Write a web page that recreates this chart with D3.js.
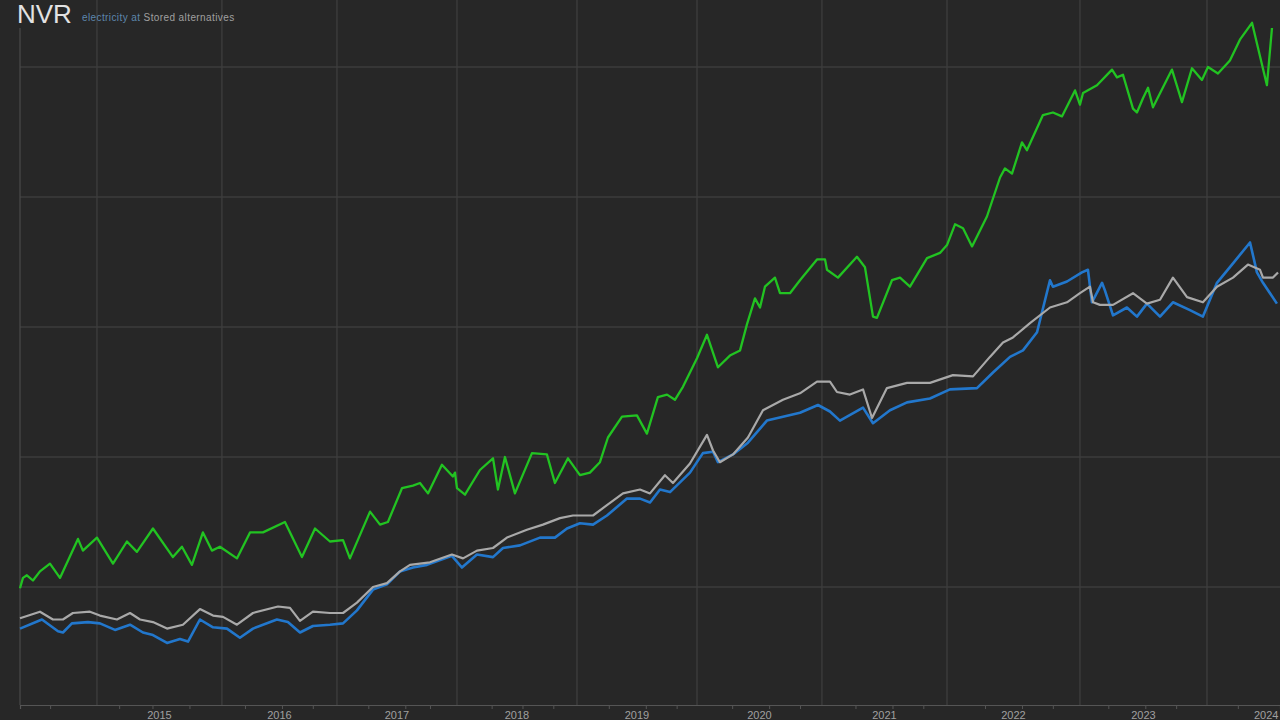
<!DOCTYPE html>
<html>
<head>
<meta charset="utf-8">
<script src="https://cdn.jsdelivr.net/npm/d3@7/dist/d3.min.js"></script>
<style>
  html, body { margin: 0; padding: 0; background: #272727; }
  svg { display: block; }
</style>
</head>
<body>
<svg id="chart" width="1280" height="720"></svg>
<script>
// ---- data (decimal year, index value) ----
const greenSeries = [
[2014.376,99],[2014.400,107],[2014.432,109],[2014.481,105],[2014.538,112],[2014.619,118],[2014.700,107],[2014.846,137],[2014.886,128],[2015.000,138],
[2015.130,118],[2015.243,135],[2015.324,127],[2015.454,145],[2015.616,123],[2015.689,131],[2015.770,117],[2015.859,142],[2015.932,128],[2015.997,131],
[2016.135,122],[2016.241,142],[2016.346,142],[2016.524,150],[2016.662,123],[2016.768,145],[2016.889,135],[2016.995,136],[2017.051,122],[2017.214,158],
[2017.295,148],[2017.359,150],[2017.473,176],[2017.562,178],[2017.619,180],[2017.684,172],[2017.797,194],[2017.886,185],[2017.903,188],[2017.919,176],
[2017.984,171],[2018.105,190],[2018.211,199],[2018.251,175],[2018.308,200],[2018.389,172],[2018.527,203],[2018.648,202],[2018.713,180],[2018.819,199],
[2018.916,186],[2018.997,188],[2019.078,196],[2019.143,215],[2019.257,231],[2019.378,232],[2019.459,218],[2019.548,246],[2019.622,248],[2019.686,244],
[2019.751,254],[2019.865,276],[2019.946,294],[2020.035,269],[2020.132,278],[2020.214,282],[2020.270,302],[2020.335,322],[2020.376,315],[2020.416,331],
[2020.497,338],[2020.538,326],[2020.619,326],[2020.700,336],[2020.838,352],[2020.903,352],[2020.919,344],[2021.008,338],[2021.162,354],[2021.227,346],
[2021.292,308],[2021.324,307],[2021.446,336],[2021.511,338],[2021.592,331],[2021.730,353],[2021.835,357],[2021.892,363],[2021.957,379],[2022.022,376],
[2022.095,362],[2022.216,385],[2022.322,415],[2022.362,422],[2022.419,418],[2022.500,442],[2022.540,436],[2022.670,463],[2022.751,465],[2022.824,462],
[2022.930,482],[2022.970,471],[2022.995,480],[2023.108,486],[2023.230,498],[2023.270,492],[2023.319,494],[2023.400,468],[2023.432,465],[2023.481,476],
[2023.522,484],[2023.562,469],[2023.716,498],[2023.797,473],[2023.878,499],[2023.959,490],[2024.008,500],[2024.089,495],[2024.186,505],[2024.267,521],
[2024.365,534],[2024.486,486],[2024.527,530]
];

const graySeries = [
[2014.376,76],[2014.538,81],[2014.643,75],[2014.724,75],[2014.805,80],[2014.943,81],[2015.024,78],[2015.162,75],[2015.268,80],[2015.349,75],
[2015.454,73],[2015.568,68],[2015.697,71],[2015.835,83],[2015.941,78],[2016.022,77],[2016.135,71],[2016.265,80],[2016.468,85],[2016.565,84],
[2016.646,74],[2016.751,81],[2016.889,80],[2016.995,80],[2017.051,84],[2017.108,88],[2017.238,100],[2017.351,103],[2017.457,112],[2017.538,117],
[2017.700,119],[2017.878,125],[2017.968,122],[2018.081,128],[2018.211,130],[2018.324,138],[2018.486,144],[2018.616,148],[2018.754,153],[2018.859,155],
[2019.022,155],[2019.135,163],[2019.265,172],[2019.403,175],[2019.484,172],[2019.605,186],[2019.670,180],[2019.808,195],[2019.946,217],[2019.995,205],
[2020.051,196],[2020.157,202],[2020.278,215],[2020.400,236],[2020.562,244],[2020.700,249],[2020.838,258],[2020.943,258],[2021.000,250],[2021.105,248],
[2021.211,252],[2021.284,230],[2021.405,253],[2021.568,257],[2021.754,257],[2021.940,263],[2022.103,262],[2022.240,277],[2022.346,288],[2022.427,292],
[2022.565,303],[2022.727,315],[2022.865,319],[2022.970,326],[2023.051,331],[2023.076,319],[2023.132,317],[2023.238,317],[2023.400,326],[2023.513,318],
[2023.619,321],[2023.724,338],[2023.838,323],[2023.967,319],[2024.081,331],[2024.211,338],[2024.332,348],[2024.430,344],[2024.454,338],[2024.535,338],
[2024.576,342]
];

const blueSeries = [
[2014.376,68],[2014.554,75],[2014.684,66],[2014.724,65],[2014.797,72],[2014.927,73],[2015.024,72],[2015.146,67],[2015.268,71],[2015.373,65],
[2015.454,63],[2015.568,57],[2015.673,60],[2015.738,58],[2015.835,75],[2015.941,69],[2016.054,68],[2016.159,61],[2016.265,68],[2016.459,75],
[2016.548,73],[2016.646,65],[2016.751,70],[2016.889,71],[2016.995,72],[2017.108,82],[2017.238,98],[2017.351,102],[2017.457,112],[2017.562,115],
[2017.676,117],[2017.878,124],[2017.959,115],[2018.081,125],[2018.211,123],[2018.292,130],[2018.430,132],[2018.592,138],[2018.713,138],[2018.811,145],
[2018.916,149],[2019.022,148],[2019.135,155],[2019.297,168],[2019.403,168],[2019.484,165],[2019.565,175],[2019.646,173],[2019.808,188],[2019.913,203],
[2019.995,204],[2020.035,196],[2020.157,202],[2020.278,211],[2020.432,228],[2020.562,231],[2020.700,234],[2020.846,240],[2020.943,235],[2021.024,228],
[2021.211,238],[2021.292,226],[2021.430,236],[2021.568,242],[2021.754,245],[2021.916,252],[2022.135,253],[2022.265,265],[2022.403,277],[2022.508,282],
[2022.622,296],[2022.727,336],[2022.751,331],[2022.865,335],[2022.986,342],[2023.035,344],[2023.067,319],[2023.149,334],[2023.173,328],[2023.238,309],
[2023.351,315],[2023.432,308],[2023.513,318],[2023.619,308],[2023.724,319],[2023.862,313],[2023.967,308],[2024.081,334],[2024.211,349],[2024.349,365],
[2024.405,342],[2024.454,334],[2024.511,326],[2024.567,318]
];

const xDomain = [2014.376, 2024.592];
const yTicks = [100, 200, 300, 400, 500];
// period boundaries (vertical gridlines) and period labels
const gridDates = [2015.000, 2016.013, 2016.946, 2017.919, 2018.892, 2019.865, 2020.878, 2021.892, 2022.970, 2024.000];
const tickLabels = ["2015", "2016", "2017", "2018", "2019", "2020", "2021", "2022", "2023", "2024"];
const minorTicks = [2014.62, 2015.18, 2015.45, 2015.75, 2016.2, 2016.5, 2016.75, 2017.2, 2017.5, 2017.7, 2018.2, 2018.45, 2018.7, 2019.15, 2019.45, 2019.7, 2020.15, 2020.45, 2020.7, 2021.15, 2021.45, 2021.7, 2022.2, 2022.5, 2022.75, 2023.2, 2023.5, 2023.75, 2024.25];
const titleText = "NVR";
const legendParts = ["electricity at", "Stored alternatives"];

// ---- layout ----
const W = 1280, H = 720;
const left = 20, right = 1280, axisY = 705;

const svg = d3.select("#chart");
svg.append("rect").attr("width", W).attr("height", H).attr("fill", "#272727");

const x = d3.scaleLinear().domain(xDomain).range([left, right]);
const y = d3.scaleLinear().domain([100, 500]).range([587, 67]);

// gridlines
const grid = svg.append("g");
grid.selectAll("line.h").data(yTicks).join("line")
  .attr("x1", left).attr("x2", right)
  .attr("y1", d => y(d)).attr("y2", d => y(d))
  .attr("stroke", "#464646").attr("stroke-width", 1.2);
grid.selectAll("line.v").data(gridDates).join("line")
  .attr("x1", d => x(d)).attr("x2", d => x(d))
  .attr("y1", 0).attr("y2", axisY)
  .attr("stroke", "#3e3e3e").attr("stroke-width", 1.3);
// left axis line
svg.append("line").attr("x1", left).attr("x2", left).attr("y1", 28).attr("y2", axisY)
  .attr("stroke", "#4a4a4a").attr("stroke-width", 1.2);

// bottom axis
const xAxis = d3.axisBottom(x).tickValues(minorTicks).tickSize(4).tickFormat("");
const ax = svg.append("g").attr("transform", `translate(0,${axisY})`).call(xAxis);
ax.select(".domain").attr("stroke", "#555").attr("stroke-width", 1.2);
ax.selectAll(".tick line").attr("stroke", "#555");

// labels centred in each period
const labelPos = gridDates.map((d, i) => i < gridDates.length - 1 ? (d + gridDates[i + 1]) / 2 : d + 0.48);
svg.append("g").selectAll("text").data(labelPos).join("text")
  .attr("x", d => x(d)).attr("y", 719)
  .attr("text-anchor", "middle")
  .attr("font-family", "Liberation Sans, Arial, sans-serif")
  .attr("font-size", 11).attr("fill", "#a0a0a0")
  .text((d, i) => tickLabels[i]);

// lines
const line = d3.line().x(d => x(d[0])).y(d => y(d[1])).curve(d3.curveLinear);
svg.append("path").datum(blueSeries).attr("d", line)
  .attr("fill", "none").attr("stroke", "#2277cc").attr("stroke-width", 2.6).attr("stroke-linejoin", "round");
svg.append("path").datum(graySeries).attr("d", line)
  .attr("fill", "none").attr("stroke", "#a9a9a9").attr("stroke-width", 2.2).attr("stroke-linejoin", "round");
svg.append("path").datum(greenSeries).attr("d", line)
  .attr("fill", "none").attr("stroke", "#22c322").attr("stroke-width", 2.3).attr("stroke-linejoin", "round");

// title & legend text
svg.append("text").attr("x", 17).attr("y", 23)
  .attr("font-family", "Liberation Sans, Arial, sans-serif")
  .attr("font-size", 26).attr("fill", "#e2e2e2").text(titleText);
const leg = svg.append("text").attr("x", 82).attr("y", 21)
  .attr("font-family", "Liberation Sans, Arial, sans-serif")
  .attr("font-size", 10).attr("letter-spacing", 0.4);
leg.append("tspan").attr("fill", "#5d86ad").text(legendParts[0] + " ");
leg.append("tspan").attr("fill", "#a0a0a0").text(legendParts[1]);
</script>
</body>
</html>
